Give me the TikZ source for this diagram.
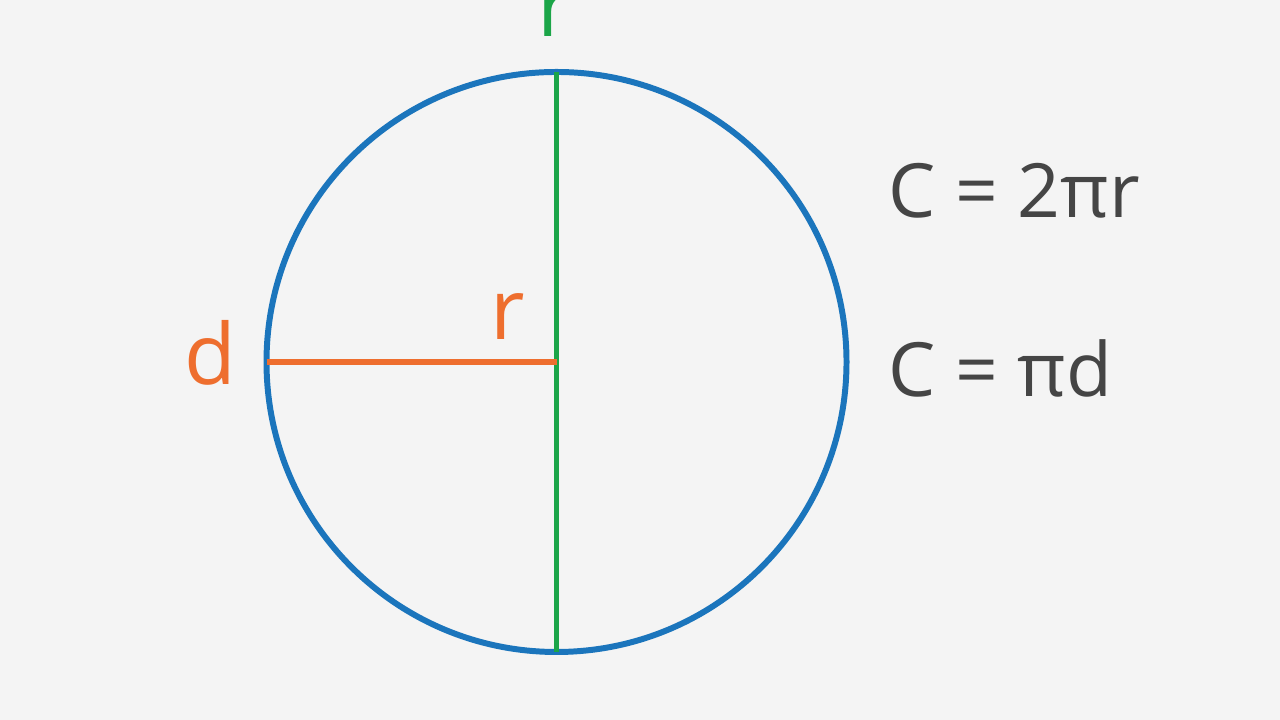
\documentclass[tikz,border=0pt]{standalone}
\usepackage{fontspec}
\setmainfont{Open Sans}
\usepackage{tikz}
\usepackage{xcolor}
\usetikzlibrary{positioning, calc}
\definecolor{PaperGray}{HTML}{F4F4F4}
\definecolor{CircleBlue}{HTML}{1B75BC}
\definecolor{LeafGreen}{HTML}{1BA548}
\definecolor{CarrotOrange}{HTML}{EE6E2E}
\definecolor{InkGray}{HTML}{454545}
\tikzset{
    lbl/.style={inner sep=0pt, anchor=base, font=\fontsize{24}{24}\selectfont},
    formula/.style={inner sep=0pt, anchor=base west, text=InkGray,
                    font=\fontsize{21.3}{22}\selectfont}
}

\begin{document}
\begin{tikzpicture}
    % Background and frame
    \fill[PaperGray] (0,0) rectangle (12.8,7.2);
    \useasboundingbox (0,0) rectangle (12.8,7.2);

    % Circle and its key points
    \coordinate (O) at (5.565,3.58);
    \draw[CircleBlue, line width=1.7pt] (O) circle (2.9);
    \coordinate (top) at ($(O)+(0,2.9)$);
    \coordinate (bot) at ($(O)+(0,-2.9)$);
    \coordinate (west) at ($(O)+(-2.9,0)$);

    % Diameter and radius
    \draw[LeafGreen, line width=1.6pt] (top) -- (bot);
    \draw[CarrotOrange, line width=1.8pt] (west) -- (O);

    % Labels
    \node[lbl, text=LeafGreen] (rtop) at (5.55,6.83) {r};
    \node[lbl, text=CarrotOrange] (rmid) at (5.08,3.80) {r};
    \node[lbl, text=CarrotOrange] (dlbl) at (2.10,3.35) {d};

    % Formulas
    \node[formula] (circ2) at (8.88,5.02) {C = 2πr};
    \node[formula] (circ1) at (8.88,3.23) {C = πd};
\end{tikzpicture}
\end{document}
